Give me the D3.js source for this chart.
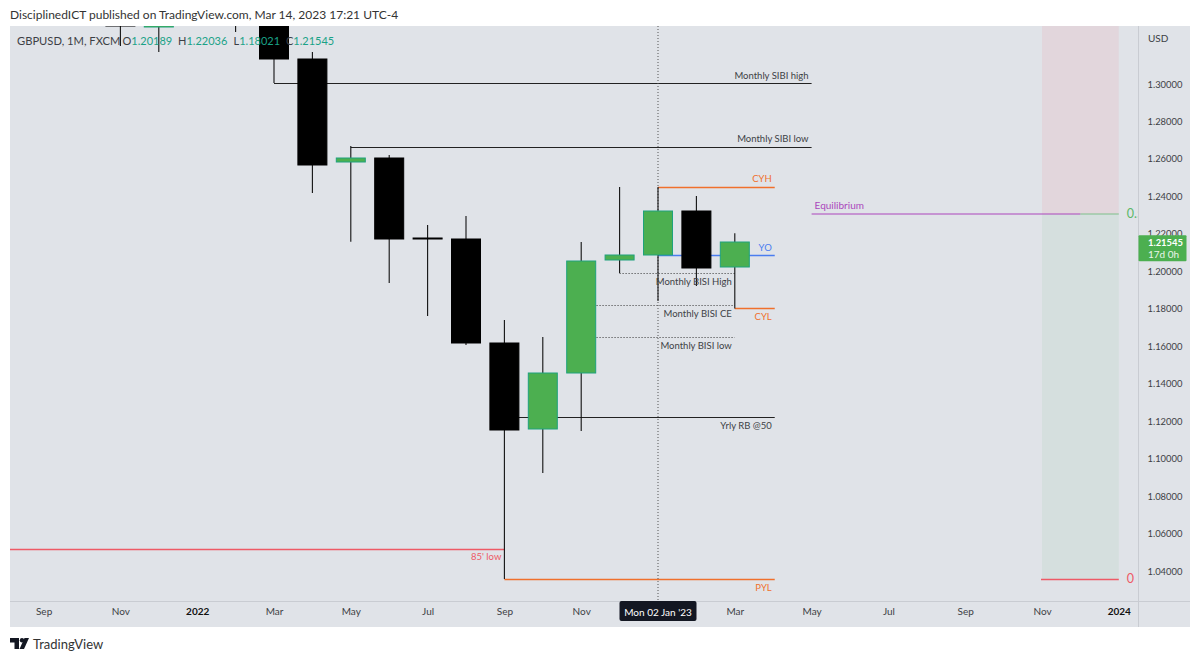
<!DOCTYPE html>
<html><head><meta charset="utf-8">
<script src="https://cdn.jsdelivr.net/npm/d3@7"></script>
<style>html,body{margin:0;padding:0;background:#fff}svg{display:block}text{font-family:Lato,sans-serif}</style>
</head><body><svg id="c" width="1200" height="660"></svg>
<script>
// ---- data ----
const tickMonths = ["Sep","Nov","2022","Mar","May","Jul","Sep","Nov","","Mar","May","Jul","Sep","Nov","2024"];
const tickIndex  = [0,2,4,6,8,10,12,14,16,18,20,22,24,26,28];
const priceTicks = [1.30,1.28,1.26,1.24,1.22,1.20,1.18,1.16,1.14,1.12,1.10,1.08,1.06,1.04];
const candleIndex = [2,3,4,5,6,7,8,9,10,11,12,13,14,15,16,17,18];
const opens  = [1.3322,1.3305,1.3530,1.3445,1.3412,1.3134,1.2583,1.2605,1.2178,1.2172,1.1617,1.1158,1.1457,1.2060,1.2087,1.2322,1.20189];
const highs  = [1.3600,1.3500,1.3749,1.3643,1.3440,1.3171,1.2669,1.2621,1.2247,1.2295,1.1740,1.1649,1.2156,1.2450,1.2450,1.2402,1.22036];
const lows   = [1.3203,1.3171,1.3358,1.3278,1.3005,1.2418,1.2158,1.1937,1.1761,1.1606,1.0357,1.0923,1.1147,1.1991,1.1841,1.1921,1.18021];
const closes = [1.3312,1.3330,1.3445,1.3412,1.3134,1.2567,1.2605,1.2172,1.2170,1.1617,1.1152,1.1457,1.2055,1.2087,1.2322,1.2017,1.21545];

const levelNames  = ["Monthly SIBI high","Monthly SIBI low","CYH","YO","CYL","PYL","Yrly RB @50","85' low","Monthly BISI High","Monthly BISI CE","Monthly BISI low"];
const levelPrices = [1.3005,1.2664,1.2450,1.2087,1.1804,1.0357,1.1222,1.0517,1.1991,1.1820,1.1649];
const levelStarts = [6,8,16,16,18,12,12,-0.88,15,14.4,14.4];
const levelEnds   = [20,20,19.04,19.04,19.04,19.04,19.04,12,18,18,18];
const levelKinds  = ["black","black","orange","blue","orange","orange","black","red","dot","dot","dot"];
const labelOffsets= [-8,-9,-9,-8,8,8,8,7,8,8,8];

const fibTop = 1.3310, fibMid = 1.2306, fibLow = 1.0357;
const fibStart = 26, fibEnd = 28, eqStart = 20, eqSplit = 27;
const crossIndex = 16;
const lastPrice = 1.21545;

// ---- styles / layout ----
const colors = {bg:"#e0e3e8",up:"#4caf50",upBorder:"#1ea27c",down:"#000",text:"#3d3f45",axis:"#c9ccd2",
  black:"#222",orange:"#f0702c",blue:"#4a7df0",red:"#ee5a66",purple:"#ab47bc",dot:"#333",legend:"#1aa287",
  green:"#7fc08a"};
const widths = {black:1,orange:1.4,blue:1.3,red:1.5,dot:1};
const P = {l:10,t:26,r:1190,b:627,pr:1138.5,tb:601};
const svg = d3.select("#c");
const x = d3.scaleLinear().domain([0,28]).range([43.6,1118.8]);
const y = d3.scaleLinear().domain([1.04,1.30]).range([571,84]);
const crisp = v => Math.round(v)+.5;

svg.append("rect").attr("x",P.l).attr("y",P.t).attr("width",P.r-P.l).attr("height",P.b-P.t).attr("fill",colors.bg);
svg.append("defs").append("clipPath").attr("id","pane").append("rect")
  .attr("x",P.l).attr("y",P.t).attr("width",P.pr-P.l).attr("height",P.tb-P.t);
const pane = svg.append("g").attr("clip-path","url(#pane)");

// fib box
pane.append("rect").attr("x",x(fibStart)).attr("width",x(fibEnd)-x(fibStart))
  .attr("y",y(fibTop)).attr("height",y(fibMid)-y(fibTop)).attr("fill","#e2d6dc");
pane.append("rect").attr("x",x(fibStart)).attr("width",x(fibEnd)-x(fibStart))
  .attr("y",y(fibMid)).attr("height",y(fibLow)-y(fibMid)).attr("fill","#d5dfde");
pane.append("line").attr("x1",x(eqStart)).attr("x2",x(eqSplit)).attr("y1",y(fibMid)).attr("y2",y(fibMid))
  .attr("stroke",colors.purple).attr("stroke-width",1.2);
pane.append("line").attr("x1",x(eqSplit)).attr("x2",x(fibEnd)).attr("y1",y(fibMid)).attr("y2",y(fibMid))
  .attr("stroke",colors.green).attr("stroke-width",1.2);
pane.append("line").attr("x1",x(fibStart)-1).attr("x2",x(fibEnd)).attr("y1",crisp(y(fibLow))).attr("y2",crisp(y(fibLow)))
  .attr("stroke",colors.red).attr("stroke-width",1.3);
pane.append("text").attr("x",x(fibEnd)+8).attr("y",y(fibMid)+4).attr("font-size",12.5).attr("fill","#5cb868").text("0.5");
pane.append("text").attr("x",x(fibEnd)+8).attr("y",y(fibLow)+4).attr("font-size",12.5).attr("fill",colors.red).text("0");
pane.append("text").attr("x",x(eqStart)+3).attr("y",y(fibMid)-5).attr("font-size",10).attr("fill",colors.purple).text("Equilibrium");

// levels
const levels = levelNames.map((n,i)=>({n,p:levelPrices[i],s:levelStarts[i],e:levelEnds[i],k:levelKinds[i],o:labelOffsets[i]}));
pane.append("g").selectAll("line").data(levels).join("line")
  .attr("x1",d=>x(d.s)).attr("x2",d=>x(d.e))
  .attr("y1",d=>crisp(y(d.p))).attr("y2",d=>crisp(y(d.p)))
  .attr("stroke",d=>colors[d.k]).attr("stroke-width",d=>widths[d.k])
  .attr("stroke-dasharray",d=>d.k==="dot"?"1 2":null);

// crosshair
pane.append("line").attr("x1",x(crossIndex)).attr("x2",x(crossIndex)).attr("y1",P.t).attr("y2",P.tb)
  .attr("stroke","#555").attr("stroke-dasharray","1 2");

// candles
const candles = candleIndex.map((m,i)=>({m,o:opens[i],h:highs[i],l:lows[i],c:closes[i]}));
const cg = pane.append("g").selectAll("g").data(candles).join("g");
cg.append("line").attr("x1",d=>x(d.m)).attr("x2",d=>x(d.m)).attr("y1",d=>y(d.h)).attr("y2",d=>y(d.l))
  .attr("stroke","#111").attr("stroke-width",1.1);
cg.append("rect").attr("x",d=>x(d.m)-14.5).attr("width",29)
  .attr("y",d=>Math.round(y(Math.max(d.o,d.c))))
  .attr("height",d=>Math.max(1,Math.round(Math.abs(y(d.o)-y(d.c)))))
  .attr("fill",d=>d.c>=d.o?colors.up:colors.down)
  .attr("stroke",d=>d.c>=d.o?colors.upBorder:colors.down).attr("stroke-width",1);

// level labels
pane.append("g").selectAll("text").data(levels).join("text")
  .attr("x",d=>x(d.e)-3).attr("y",d=>y(d.p)+d.o+4)
  .attr("text-anchor","end").attr("font-size",9.5)
  .attr("fill",d=>d.k==="black"||d.k==="dot"?colors.text:colors[d.k]).text(d=>d.n);

// price axis
svg.append("line").attr("x1",P.pr).attr("x2",P.pr).attr("y1",P.t).attr("y2",P.b).attr("stroke",colors.axis);
svg.append("line").attr("x1",P.l).attr("x2",P.r).attr("y1",P.tb+.5).attr("y2",P.tb+.5).attr("stroke",colors.axis);
const ya = svg.append("g").attr("transform",`translate(${P.pr},0)`)
  .call(d3.axisRight(y).tickValues(priceTicks).tickSize(0).tickPadding(9).tickFormat(d=>d.toFixed(5)));
ya.select(".domain").remove();
ya.selectAll("text").attr("font-size",9.4).attr("fill",colors.text).style("font-family",'Lato,sans-serif');
svg.append("text").attr("x",1148).attr("y",42).attr("font-size",10).attr("fill",colors.text).text("USD");

// time axis
const xa = svg.append("g").attr("transform",`translate(0,${P.tb})`)
  .call(d3.axisBottom(x).tickValues(tickIndex).tickSize(0).tickPadding(7).tickFormat((d,i)=>tickMonths[i]));
xa.select(".domain").remove();
xa.selectAll("text").attr("font-size",10).style("font-family",'Lato,sans-serif')
  .attr("fill",(d,i)=>/^\d/.test(tickMonths[i])?"#111":colors.text)
  .attr("font-weight",(d,i)=>/^\d/.test(tickMonths[i])?700:400);

// tags
const lp = y(lastPrice);
svg.append("rect").attr("x",P.pr).attr("y",lp-7).attr("width",48).attr("height",26).attr("rx",1).attr("fill",colors.up);
svg.append("text").attr("x",1148).attr("y",lp+4).attr("font-size",9.4).attr("font-weight",700).attr("fill","#fff").text(lastPrice.toFixed(5));
svg.append("text").attr("x",1148).attr("y",lp+16).attr("font-size",10).attr("fill","#e8f5e9").text("17d 0h");
svg.append("rect").attr("x",x(crossIndex)-38.5).attr("y",P.tb).attr("width",77).attr("height",20).attr("rx",2).attr("fill","#131722");
svg.append("text").attr("x",x(crossIndex)).attr("y",P.tb+15).attr("text-anchor","middle").attr("font-size",10).attr("fill","#fff").text("Mon 02 Jan '23");

// header & legend
svg.append("text").attr("x",10).attr("y",19).attr("font-size",12).attr("fill","#333").text("DisciplinedICT published on TradingView.com, Mar 14, 2023 17:21 UTC-4");
svg.append("text").attr("x",17).attr("y",45).attr("font-size",11.2).attr("fill",colors.text).text("GBPUSD, 1M, FXCM");
[["O","1.20189",122.5],["H","1.22036",178],["L","1.18021",233.5],["C","1.21545",286]].forEach(([k,v,px])=>{
  const t = svg.append("text").attr("x",px).attr("y",45).attr("font-size",11);
  t.append("tspan").attr("fill",colors.text).text(k);
  t.append("tspan").attr("fill",colors.legend).text(v);
});

// footer
const logo = svg.append("g").attr("transform","translate(10,638)").attr("fill","#131722");
logo.append("path").attr("d","M0 0H9V11H4.5V4.5H0Z");
logo.append("circle").attr("cx",12).attr("cy",2.2).attr("r",2.2);
logo.append("path").attr("d","M14.5 0H19L14 11H9.5Z");
svg.append("text").attr("x",33).attr("y",649).attr("font-size",13).attr("fill","#333").text("TradingView");
</script></body></html>
